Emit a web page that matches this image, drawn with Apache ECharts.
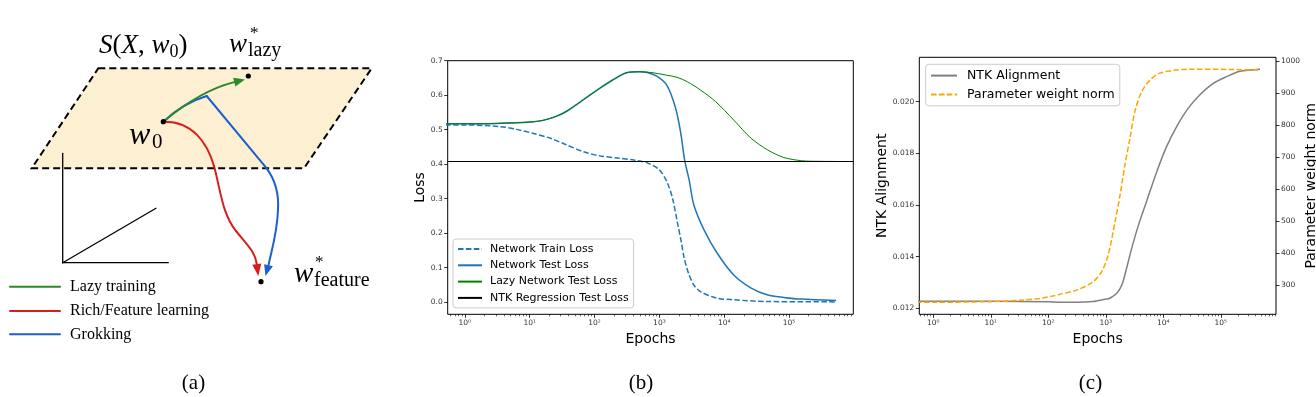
<!DOCTYPE html>
<html>
<head>
<meta charset="utf-8">
<script src="https://cdn.jsdelivr.net/npm/echarts@6/dist/echarts.min.js"></script>
<style>
  html, body { margin: 0; padding: 0; background: #fff; }
  #fig { width: 1316px; height: 397px; }
</style>
</head>
<body>
<div id="fig"></div>
<script>
// ---- (b) loss curves, x = epoch ----
var trainEpochs = [0.5, 1, 3.5, 6.3, 11.5, 21, 37, 68, 123, 224, 407, 650, 980, 1300, 1600, 1900, 2150, 2400, 2800, 3400, 4350, 7700, 14000, 46000, 530000];
var trainLoss = [0.514, 0.514, 0.509, 0.501, 0.489, 0.475, 0.456, 0.436, 0.424, 0.418, 0.412, 0.404, 0.385, 0.350, 0.300, 0.230, 0.180, 0.130, 0.085, 0.050, 0.030, 0.012, 0.007, 0.002, 0.001];

var testEpochs = [0.5, 1, 3, 10, 16, 25, 36, 66, 120, 190, 310, 500, 650, 910, 1300, 1780, 2140, 2450, 2880, 3400, 4900, 7800, 14000, 26000, 47000, 83000, 150000, 530000];
var testLoss = [0.517, 0.517, 0.518, 0.522, 0.527, 0.538, 0.552, 0.586, 0.620, 0.644, 0.665, 0.668, 0.666, 0.655, 0.629, 0.562, 0.489, 0.412, 0.354, 0.282, 0.209, 0.142, 0.079, 0.041, 0.021, 0.014, 0.009, 0.005];

var lazyEpochs = [0.5, 1, 3, 10, 16, 25, 36, 66, 120, 190, 310, 500, 800, 1300, 1860, 2700, 4300, 7400, 14000, 26000, 47000, 81000, 130000, 186000, 550000];
var lazyTestLoss = [0.517, 0.517, 0.518, 0.522, 0.527, 0.538, 0.552, 0.586, 0.620, 0.644, 0.665, 0.668, 0.665, 0.658, 0.652, 0.639, 0.615, 0.581, 0.528, 0.475, 0.441, 0.420, 0.412, 0.409, 0.408];

var ntkRegressionLoss = 0.409;

// ---- (c) alignment and weight norm ----
var alignEpochs = [0.5, 1, 10, 100, 160, 310, 600, 970, 1180, 1550, 1900, 2300, 2820, 3700, 5100, 7700, 11400, 17000, 27000, 43000, 74000, 126000, 215000, 480000];
var ntkAlignment = [0.01227, 0.01227, 0.01227, 0.01225, 0.01223, 0.01223, 0.01226, 0.01235, 0.01239, 0.01258, 0.0129, 0.01355, 0.01432, 0.01522, 0.01613, 0.01729, 0.01826, 0.01903, 0.01974, 0.02026, 0.02071, 0.02097, 0.02118, 0.02126];

var normEpochs = [0.5, 1, 10, 32, 72, 123, 160, 310, 600, 850, 1100, 1450, 1770, 2150, 2630, 3200, 4200, 5900, 8700, 17000, 33000, 74000, 480000];
var weightNorm = [246, 246, 248, 252, 258, 266, 271, 284, 310, 342, 394, 498, 581, 675, 758, 842, 904, 941, 962, 972, 974, 974, 972];

// ---- ticks ----
var epochTicks = [1, 10, 100, 1000, 10000, 100000];
var lossTicks = [0, 0.1, 0.2, 0.3, 0.4, 0.5, 0.6, 0.7];
var alignTicks = [0.012, 0.014, 0.016, 0.018, 0.020];
var normTicks = [300, 400, 500, 600, 700, 800, 900, 1000];

var minorTicks = [];
[0.1].concat(epochTicks).forEach(function (d) {
  for (var k = 2; k < 10; k++) minorTicks.push(d * k);
});

var SUP = '⁰¹²³⁴⁵⁶⁷⁸⁹';
function powLabel(v) {
  return '10' + SUP[Math.round(Math.log10(v))];
}
function pairs(xs, ys) {
  return xs.map(function (x, i) { return [x, ys[i]]; });
}

var tickLine = { color: '#000', width: 0.8 };
var nameStyle = { fontSize: 14, color: '#000', fontFamily: 'DejaVu Sans' };

function epochAxis(grid, lo, hi, minor) {
  return {
    type: 'log', gridIndex: grid, min: lo, max: hi, position: 'bottom',
    axisLine: { show: false, onZero: false },
    splitLine: { show: false },
    minorTick: { show: false },
    axisTick: { customValues: minor ? minorTicks : epochTicks, length: minor ? 2 : 3.5,
                lineStyle: { color: '#000', width: minor ? 0.6 : 0.8 } },
    axisLabel: minor ? { show: false } : {
      customValues: epochTicks, formatter: powLabel, fontSize: 7.5, color: '#333', margin: 5
    },
    name: minor ? '' : 'Epochs', nameLocation: 'middle', nameGap: 13, nameTextStyle: nameStyle
  };
}

function valueAxis(grid, pos, lo, hi, ticks, digits, name, gap) {
  return {
    type: 'value', gridIndex: grid, position: pos, min: lo, max: hi,
    axisLine: { show: false, onZero: false },
    splitLine: { show: false },
    axisTick: { customValues: ticks, length: 3.5, lineStyle: tickLine },
    axisLabel: { customValues: ticks, fontSize: 7.5, color: '#333', margin: 5,
                 formatter: function (v) { return v.toFixed(digits); } },
    name: name, nameLocation: 'middle', nameRotate: 90, nameGap: gap, nameTextStyle: nameStyle
  };
}

// ---- (a) schematic ----
var cGreen = '#2b8a23', cRed = '#d61e1e', cBlue = '#1d5fd1';
var serif = 'Liberation Serif';

function txt(x, y, s, size, italic, align) {
  return { type: 'text', x: x, y: y, silent: true,
    style: { text: s, fontSize: size, fontFamily: serif, fontStyle: italic ? 'italic' : 'normal',
             fill: '#000', align: align || 'left', verticalAlign: 'middle',
             textAlign: align || 'left', textVerticalAlign: 'middle' } };
}
// cubic (or quadratic when c2 is omitted) piece of a trajectory
function bez(p0, c1, p1, color, c2) {
  var shape = { x1: p0[0], y1: p0[1], x2: p1[0], y2: p1[1], cpx1: c1[0], cpy1: c1[1] };
  if (c2) { shape.cpx2 = c2[0]; shape.cpy2 = c2[1]; }
  return { type: 'bezierCurve', silent: true, shape: shape,
    style: { fill: null, stroke: color, lineWidth: 2, lineCap: 'round' } };
}
function head(pts, color) {
  return { type: 'polygon', silent: true, shape: { points: pts }, style: { fill: color } };
}
function dot(x, y) {
  return { type: 'circle', silent: true, shape: { cx: x, cy: y, r: 2.6 }, style: { fill: '#000' } };
}
function seg(x1, y1, x2, y2, color, w) {
  return { type: 'line', silent: true, shape: { x1: x1, y1: y1, x2: x2, y2: y2 },
    style: { stroke: color, lineWidth: w, lineCap: 'round' } };
}

var schematic = [
  { type: 'polygon', silent: true,
    shape: { points: [[98.3, 68.3], [371.7, 68.3], [304, 168.3], [31.7, 168.3]] },
    style: { fill: '#fcefd2', stroke: '#000', lineWidth: 2, lineDash: [7, 4] } },
  seg(62.7, 153.3, 62.7, 262.7, '#000', 1.3),
  seg(62.7, 262.7, 168.3, 262.7, '#000', 1.3),
  seg(62.7, 262.7, 156, 208.3, '#000', 1.3),
  // rich / feature learning
  bez([163.3, 121.7], [192, 121], [214, 166], cRed, [207, 142]),
  bez([214, 166], [221, 192], [236, 231], cRed, [222, 213]),
  bez([236, 231], [249, 247], [256.8, 264.1], cRed, [255, 252]),
  head([[258.3, 276], [261.3, 263.5], [252.3, 264.7]], cRed),
  // grokking
  bez([163.3, 121.7], [183, 103], [206.7, 96], cBlue),
  seg(206.7, 96, 266.7, 168.3, cBlue, 2),
  bez([266.7, 168.3], [276, 181], [278, 210], cBlue, [279, 195]),
  bez([278, 210], [277, 235], [268.5, 265.3], cBlue, [271, 252]),
  head([[265.5, 276], [272.9, 266.3], [264.1, 264.3]], cBlue),
  // lazy
  bez([163.3, 121.7], [201.2, 90.1], [234.3, 82.1], cGreen),
  head([[245, 79.5], [235.4, 86.5], [233.2, 77.7]], cGreen),
  dot(163.3, 121.7), dot(248.3, 76), dot(261, 281.7),
  { type: 'text', x: 99, y: 46, silent: true,
    style: { text: '{i|S}{r|(}{i|X}{r|, }{i|w}{s|0}{r|)}', verticalAlign: 'middle', textVerticalAlign: 'middle',
             rich: { i: { fontSize: 27, fontFamily: serif, fontStyle: 'italic', lineHeight: 30 },
                     r: { fontSize: 27, fontFamily: serif, lineHeight: 30 },
                     s: { fontSize: 18, fontFamily: serif, lineHeight: 30, verticalAlign: 'bottom', padding: [6, 0, 0, 0] } } } },
  txt(229, 45, 'w', 27, true),
  txt(250, 34, '*', 17, false),
  txt(248, 51, 'lazy', 20, false),
  txt(129, 136, 'w', 32, true),
  txt(152, 142, '0', 21, false),
  txt(294, 274, 'w', 29, true),
  txt(315, 263, '*', 17, false),
  txt(314, 281, 'feature', 20, false),
  seg(10, 286.7, 60, 286.7, cGreen, 2),
  seg(10, 311, 60, 311, cRed, 2),
  seg(10, 334.3, 60, 334.3, cBlue, 2),
  txt(70, 286.7, 'Lazy training', 16, false),
  txt(70, 311, 'Rich/Feature learning', 16, false),
  txt(70, 334.3, 'Grokking', 16, false),
  txt(193.5, 383, '(a)', 21, false, 'center'),
  txt(641, 383, '(b)', 21, false, 'center'),
  txt(1090.5, 383, '(c)', 21, false, 'center')
];

var chart = echarts.init(document.getElementById('fig'));
var option = {
  animation: false,
  backgroundColor: '#fff',
  textStyle: { fontFamily: 'DejaVu Sans' },
  grid: [
    { left: 447.7, top: 60.7, width: 405.6, height: 253.6, show: true, borderColor: '#000', borderWidth: 1,
      backgroundColor: 'transparent', containLabel: false, outerBoundsMode: 'none' },
    { left: 919.3, top: 57.3, width: 356.7, height: 257, show: true, borderColor: '#000', borderWidth: 1,
      backgroundColor: 'transparent', containLabel: false, outerBoundsMode: 'none' }
  ],
  xAxis: [
    epochAxis(0, 0.5445, 977000, false),
    epochAxis(0, 0.5445, 977000, true),
    epochAxis(1, 0.5715, 912000, false),
    epochAxis(1, 0.5715, 912000, true)
  ],
  yAxis: [
    valueAxis(0, 'left', -0.035, 0.7, lossTicks, 1, 'Loss', 20),
    valueAxis(1, 'left', 0.011767, 0.02172, alignTicks, 3, 'NTK Alignment', 19),
    valueAxis(1, 'right', 208.4, 1011.6, normTicks, 0, 'Parameter weight norm', 25)
  ],
  legend: [
    { data: ['Network Train Loss', 'Network Test Loss', 'Lazy Network Test Loss', 'NTK Regression Test Loss'],
      orient: 'vertical', left: 453, top: 239, itemWidth: 24, itemHeight: 11, itemGap: 5.3,
      padding: [4.5, 5, 4.5, 4], borderColor: '#cccccc', borderWidth: 1, borderRadius: 3,
      backgroundColor: 'rgba(255,255,255,0.8)', selectedMode: false,
      itemStyle: { opacity: 0 },
      textStyle: { fontSize: 11, lineHeight: 11, color: '#000', padding: [0, 0, 0, 3] } },
    { data: ['NTK Alignment', 'Parameter weight norm'],
      orient: 'vertical', left: 925.7, top: 64.3, itemWidth: 26, itemHeight: 12.5, itemGap: 5.9,
      padding: [4.8, 5, 4.8, 4.3], borderColor: '#cccccc', borderWidth: 1, borderRadius: 3,
      backgroundColor: 'rgba(255,255,255,0.8)', selectedMode: false,
      itemStyle: { opacity: 0 },
      textStyle: { fontSize: 12.5, lineHeight: 12.5, color: '#000', padding: [0, 0, 0, 5] } }
  ],
  series: [
    { name: 'Network Train Loss', type: 'line', xAxisIndex: 0, yAxisIndex: 0,
      data: pairs(trainEpochs, trainLoss), symbol: 'none', smooth: 0.3,
      lineStyle: { color: '#1f77b4', width: 1.5, type: [5.5, 2.4] }, itemStyle: { color: '#1f77b4' } },
    { name: 'Network Test Loss', type: 'line', xAxisIndex: 0, yAxisIndex: 0,
      data: pairs(testEpochs, testLoss), symbol: 'none', smooth: 0.3,
      lineStyle: { color: '#1f77b4', width: 1.5 }, itemStyle: { color: '#1f77b4' } },
    { name: 'Lazy Network Test Loss', type: 'line', xAxisIndex: 0, yAxisIndex: 0,
      data: pairs(lazyEpochs, lazyTestLoss), symbol: 'none', smooth: 0.3,
      lineStyle: { color: '#008000', width: 1 }, itemStyle: { color: '#008000' } },
    { name: 'NTK Regression Test Loss', type: 'line', xAxisIndex: 0, yAxisIndex: 0,
      data: [], symbol: 'none',
      lineStyle: { color: '#000', width: 1.2 }, itemStyle: { color: '#000' },
      markLine: { silent: true, symbol: ['none', 'none'], label: { show: false },
                  lineStyle: { color: '#000', width: 1.2, type: 'solid' },
                  data: [{ yAxis: ntkRegressionLoss }] } },
    { name: 'NTK Alignment', type: 'line', xAxisIndex: 2, yAxisIndex: 1,
      data: pairs(alignEpochs, ntkAlignment), symbol: 'none', smooth: 0.3,
      lineStyle: { color: '#808080', width: 1.5 }, itemStyle: { color: '#808080' } },
    { name: 'Parameter weight norm', type: 'line', xAxisIndex: 2, yAxisIndex: 2,
      data: pairs(normEpochs, weightNorm), symbol: 'none', smooth: 0.3,
      lineStyle: { color: '#ffa500', width: 1.5, type: [5.5, 2.4] }, itemStyle: { color: '#ffa500' } }
  ],
  graphic: { elements: schematic }
};
chart.setOption(option);
</script>
</body>
</html>
